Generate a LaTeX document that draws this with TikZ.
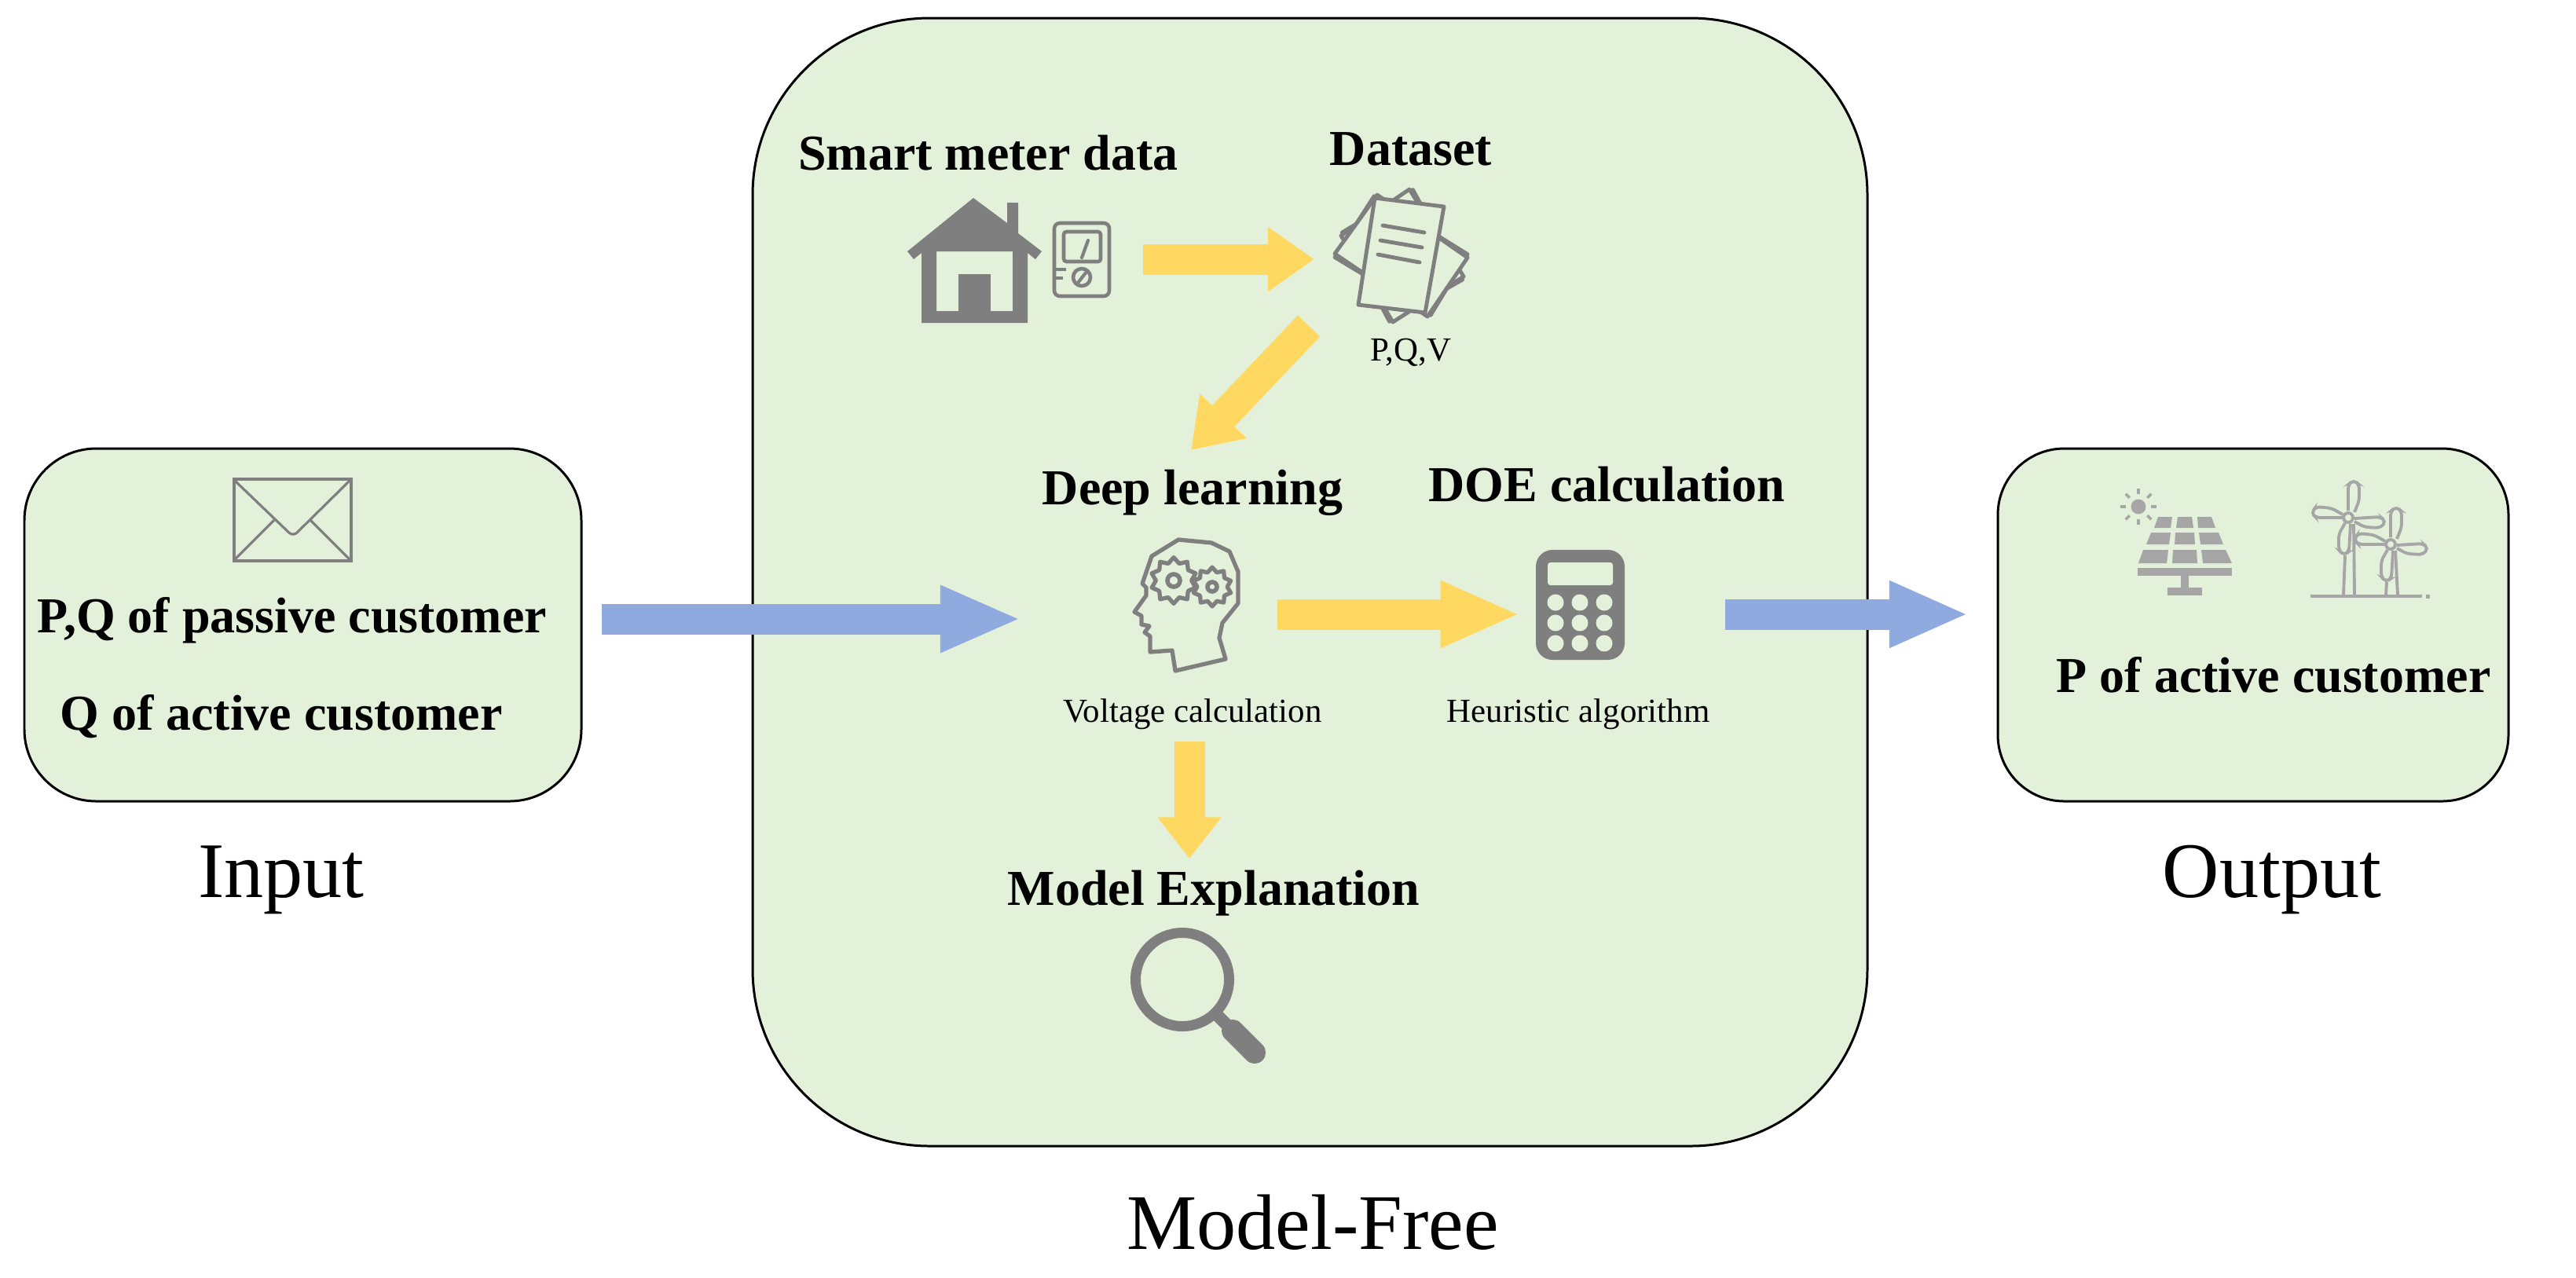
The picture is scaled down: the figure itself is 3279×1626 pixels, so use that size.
\documentclass[tikz,border=0pt]{standalone}
\usepackage{fontspec}
\setmainfont{Liberation Serif}
\usepackage{tikz}
\usetikzlibrary{arrows.meta}
\definecolor{panelgreen}{HTML}{E4F1DA}
\definecolor{flowyellow}{HTML}{FFD862}
\definecolor{flowblue}{HTML}{8FAADF}
\definecolor{icongray}{HTML}{7F7F7F}
\definecolor{iconlight}{HTML}{A6A6A6}
\tikzset{
  panel/.style={draw=black,line width=.85pt,fill=panelgreen},
  flowarrow/.style 2 args={draw=#1,line width=11.1pt,-{Triangle[length=#2,width=22.2pt]}},
  caption/.style={inner sep=0pt,font=\fontsize{28.5}{30}\selectfont},
  heading/.style={inner sep=0pt,font=\fontsize{18.2}{20}\selectfont\bfseries},
  note/.style={inner sep=0pt,font=\fontsize{12.2}{14}\selectfont},
  iconline/.style={draw=icongray,line width=1.4pt},
  windline/.style={draw=iconlight,line width=1.1pt},
  blades/.pic={
    \draw[windline,rounded corners=1.5pt] (8,-7)--(14,-22)--(14,-42)--(7,-48)--(0,-42)--(0,-9);
    \draw[windline,rounded corners=1.5pt] (-7,-4)--(-21,-12)--(-41,-14)--(-47,-6)--(-41,0)--(-7,0);
    \draw[windline,rounded corners=1.5pt] (8,1)--(41,-1)--(48,5)--(41,13)--(21,12)--(8,5);
    \draw[windline,rounded corners=1.5pt] (-4,7)--(-12,21)--(-12,41)--(-6,48)--(1,43)--(3,8);
    \draw[windline] (0,0) circle[radius=6];
  }
}
\newcommand{\gearicon}[4]{% centre x, centre y, outer radius, hole radius
  \draw[iconline,line width=1.5pt,line join=round,domain=0:342,samples=20,variable=\t]
    plot ({#1+#3*(1-.13*cos(10*\t))*cos(\t)},{#2+#3*(1-.13*cos(10*\t))*sin(\t)}) -- cycle;
  \draw[iconline,line width=1.6pt] (#1,#2) circle[radius=#4];
}
\begin{document}
\begin{tikzpicture}[x=.01cm,y=-.01cm]
\useasboundingbox (0,0) rectangle (3279,1626);
% panels
\draw[panel,rounded corners=26pt] (31,571) rectangle (740,1020);
\draw[panel,rounded corners=64pt] (958,23) rectangle (2377,1459);
\draw[panel,rounded corners=24pt] (2543,571) rectangle (3193,1020);
% captions and labels
\node[caption] (input) at (358,1120) {Input};
\node[caption] (output) at (2892,1120) {Output};
\node[caption] (modelfree) at (1671,1556) {Model-Free};
\node[heading] (passive) at (372,790) {P,Q of passive customer};
\node[heading] (activeq) at (358,912) {Q of active customer};
\node[heading] (activep) at (2894,859) {P of active customer};
\node[heading] (smartmeter) at (1258,195) {Smart meter data};
\node[heading] (dataset) at (1796,190) {Dataset};
\node[heading] (deeplearning) at (1518,627) {Deep learning};
\node[heading] (doecalc) at (2045,617) {DOE calculation};
\node[heading] (explanation) at (1545,1137) {Model Explanation};
\node[note] (pqv) at (1796,449) {P,Q,V};
\node[note] (voltage) at (1518,909) {Voltage calculation};
\node[note] (heuristic) at (2009,909) {Heuristic algorithm};
% arrows
\coordinate (meterout) at (1455,330);
\coordinate (datasetin) at (1673,330);
\coordinate (datasetout) at (1666,415);
\coordinate (deepin) at (1516,573);
\coordinate (deepout) at (1626,782);
\coordinate (doein) at (1935,782);
\coordinate (voltageout) at (1514,944);
\coordinate (explanationin) at (1514,1093);
\coordinate (inputout) at (766,788);
\coordinate (modelin) at (1300,788);
\coordinate (modelout) at (2196,782);
\coordinate (outputin) at (2506,782);
\draw[flowarrow={flowyellow}{16.8pt}] (meterout) -- (datasetin);
\draw[flowarrow={flowyellow}{17pt}] (datasetout) -- (deepin);
\draw[flowarrow={flowyellow}{28.8pt}] (deepout) -- (doein);
\draw[flowarrow={flowyellow}{15pt}] (voltageout) -- (explanationin);
\draw[flowarrow={flowblue}{29.3pt}] (inputout) -- (modelin);
\draw[flowarrow={flowblue}{28.8pt}] (modelout) -- (outputin);
% envelope
\draw[iconline,line width=1.1pt] (298,610) rectangle (447,714);
\draw[iconline,line width=.9pt,rounded corners=2pt] (299,612) -- (373,683) -- (445,612);
\draw[iconline,line width=.9pt] (299,712) -- (349,662) (445,712) -- (395,662);
% house
\fill[icongray,even odd rule] (1239,252) -- (1282,284) -- (1282,258) -- (1296,258) -- (1296,297) -- (1326,320) -- (1318,330) -- (1308,322) -- (1308,411) -- (1173,411) -- (1173,322) -- (1163,330) -- (1155,320) -- cycle
  (1192,320) rectangle (1289,396);
\fill[icongray] (1220,349) rectangle (1261,396);
% meter
\draw[iconline,line width=1.3pt,rounded corners=2pt] (1342,284) rectangle (1412,377);
\draw[iconline,line width=1.3pt,rounded corners=1pt] (1354,295) rectangle (1401,333);
\draw[iconline,line width=1.2pt,line cap=round] (1385,306) -- (1377,328);
\draw[iconline,line width=1.3pt] (1377,353) circle[radius=11];
\draw[iconline,line width=1.2pt] (1372,360) -- (1383,346);
\draw[iconline,line width=1.2pt] (1343,343) -- (1357,343) (1343,354) -- (1353,354);
% papers
\foreach \tilt in {-3,0} {
  \draw[iconline,line join=round,fill=panelgreen,rotate around={\tilt:(1785,325)}] (1707,300) -- (1794,241) -- (1863,352) -- (1773,410) -- cycle;
  \draw[iconline,line join=round,fill=panelgreen,rotate around={-\tilt:(1785,325)}] (1699,323) -- (1753,248) -- (1868,328) -- (1817,403) -- cycle;
}
\draw[iconline,line join=round,fill=panelgreen] (1750,252) -- (1838,263) -- (1814,398) -- (1729,388) -- cycle;
\draw[iconline,line cap=round] (1760,287) -- (1813,296) (1757,306) -- (1810,315) (1754,324) -- (1807,334);
% head and gears
\draw[iconline,line width=1.5pt,line join=round] (1500,687) -- (1542,691) -- (1565,702) -- (1576,728) -- (1576,768) -- (1556,793) -- (1552,812) -- (1560,839) -- (1496,854) -- (1492,828) -- (1464,830) -- (1464,810) -- (1457,805) -- (1463,797) -- (1453,795) -- (1453,784) -- (1444,779) -- (1459,758) -- (1459,748) -- (1454,743) -- (1466,708) -- cycle;
\gearicon{1494}{739}{26}{8}
\gearicon{1543}{747}{22}{6}
% calculator
\fill[icongray,rounded corners=6pt] (1955,700) rectangle (2068,840);
\fill[panelgreen,rounded corners=1pt] (1970,716) rectangle (2053,745);
\foreach \col in {1980,2011,2042}
  \foreach \row in {767,793,819}
    \fill[panelgreen] (\col,\row) circle[radius=10.5];
% magnifier
\draw[icongray,line width=3.7pt] (1505,1247) circle[radius=59.5];
\draw[icongray,line width=4.5pt] (1546,1289) -- (1567,1310);
\draw[icongray,line width=8pt,line cap=round] (1569,1312) -- (1597,1340);
% solar panel
\fill[iconlight] (2722,645) circle[radius=9.5];
\foreach \ang in {0,45,...,315}
  \draw[iconlight,line width=1pt] (2722,645) ++(\ang:16) -- ++(\ang:7);
\foreach \cellA/\cellB/\cellC/\cellD in {
  {2747,658}/{2765,658}/{2763,672}/{2742,672},{2772,658}/{2790,658}/{2792,672}/{2770,672},{2797,658}/{2815,658}/{2820,672}/{2798,672},
  {2738,678}/{2763,678}/{2761,693}/{2732,693},{2769,678}/{2793,678}/{2794,693}/{2768,693},{2799,678}/{2824,678}/{2830,693}/{2801,693},
  {2728,700}/{2760,700}/{2758,717}/{2722,717},{2766,700}/{2796,700}/{2797,717}/{2765,717},{2802,700}/{2833,700}/{2841,717}/{2804,717}}
  \fill[iconlight] (\cellA) -- (\cellB) -- (\cellC) -- (\cellD) -- cycle;
\fill[iconlight] (2721,723) rectangle (2841,733);
\fill[iconlight] (2776,733) rectangle (2786,748);
\fill[iconlight] (2759,748) rectangle (2803,758);
% wind turbines
\draw[windline,line width=1.3pt] (2941,759) -- (3083,759);
\fill[iconlight] (3088,757) rectangle (3093,762);
\draw[windline] (2985,707) -- (2983,757) (2996,667) -- (2997,757);
\draw[windline] (3038,741) -- (3037,757) (3049,701) -- (3052,757);
\pic at (2989,659) {blades};
\pic at (3043,693) {blades};
\end{tikzpicture}
\end{document}
